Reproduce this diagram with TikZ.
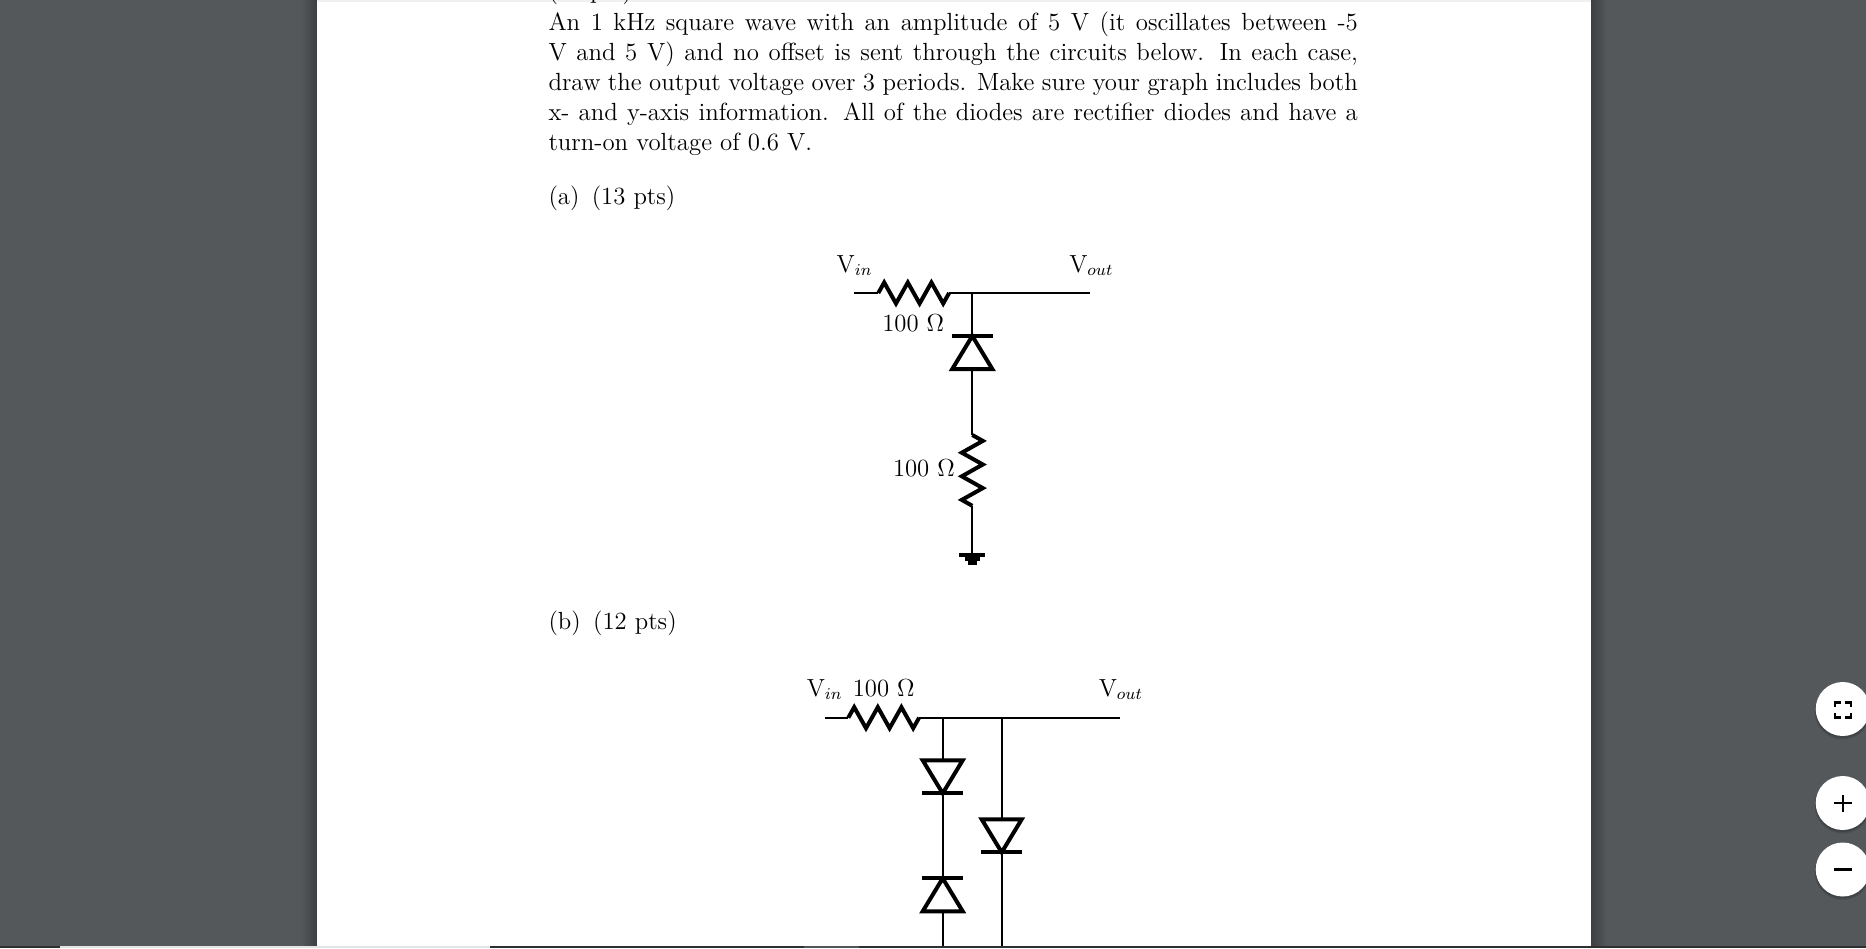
\documentclass[tikz,border=0pt]{standalone}
\definecolor{viewerbg}{HTML}{54585A}
\definecolor{shadowdk}{HTML}{3C3F41}
\definecolor{barbg}{HTML}{2F2F2F}
\definecolor{barlt}{HTML}{E4E4E4}
\definecolor{barmd}{HTML}{555555}
\newcommand{\sub}[1]{\raisebox{-1.3pt}{$\scriptstyle #1$}}
\tikzset{
  x=1pt,y=-1pt,
  wire/.style={line width=2.3pt,black},
  sym/.style={line width=4pt,black,miter limit=10},
  txt/.style={scale=2.06,inner sep=0pt,outer sep=0pt,anchor=base west,font=\fontsize{12}{14.55}\selectfont},
  para/.style={scale=2.07,inner sep=0pt,outer sep=0pt,anchor=north west,text width=391pt,align=justify,font=\fontsize{12}{14.4}\selectfont},
  btn/.style={circle,fill=white,minimum size=54pt,inner sep=0pt},
  btnicon/.style={line width=2.4pt,black},
  pics/reshor/.style={code={\draw[sym] (0,0) -- (5.9,-10.5) -- (17.7,10.5) -- (29.5,-10.5) -- (41.3,10.5) -- (53.1,-10.5) -- (64.9,10.5) -- (70.8,0);}},
  pics/resver/.style={code={\draw[sym] (0,0) -- (10.5,5.9) -- (-10.5,17.7) -- (10.5,29.5) -- (-10.5,41.3) -- (10.5,53.1) -- (-10.5,64.9) -- (0,70.8);}},
  pics/diodeup/.style={code={\draw[sym] (-20.5,0) -- (20.5,0); \draw[sym] (0,0) -- (20,33) -- (-20,33) -- cycle;}},
  pics/diodedown/.style={code={\draw[sym] (-20.5,0) -- (20.5,0); \draw[sym] (0,0) -- (20,-33) -- (-20,-33) -- cycle;}},
  pics/groundsym/.style={code={
    \fill (-13,0) rectangle (13,4);
    \fill (-7.5,4) rectangle (7.5,8);
    \fill (-4.5,8) rectangle (4.5,12);}}
}
\begin{document}
\begin{tikzpicture}
\useasboundingbox (0,0) rectangle (1866,948);
\clip (0,0) rectangle (1866,948);
% viewer
\fill[viewerbg] (0,0) rectangle (1866,948);
\shade[left color=viewerbg,right color=shadowdk] (301,0) rectangle (317,946);
\shade[left color=shadowdk,right color=viewerbg] (1591,0) rectangle (1607,946);
\fill[white] (317,0) rectangle (1591,946);
\fill[black!6] (317,0) rectangle (1591,1.5);
\fill[barbg] (0,946) rectangle (1866,948);
\fill[barlt] (60,946) rectangle (490,948);
\fill[barmd] (804,946) rectangle (859,948);
% text
\node[txt] (t0) at (548.5,-2) {(25 pts)};
\node[para] (t1) at (548.5,12.3) {An 1 kHz square wave with an amplitude of 5 V (it oscillates between -5\linebreak V and 5 V) and no offset is sent through the circuits below. In each case,\linebreak draw the output voltage over 3 periods. Make sure your graph includes both\linebreak x- and y-axis information. All of the diodes are rectifier diodes and have a\linebreak turn-on voltage of 0.6 V.};
\node[txt] (ta) at (548.5,204) {(a)\hspace{0.5em}(13 pts)};
\node[txt] (tb) at (548.5,629.5) {(b)\hspace{0.5em}(12 pts)};
% circuit a
\coordinate (ain) at (854.3,293);
\coordinate (ar1a) at (878.3,293);
\coordinate (ar1b) at (949.1,293);
\coordinate (aj) at (972.3,293);
\coordinate (aout) at (1090,293);
\coordinate (ad) at (972.3,336);
\coordinate (adb) at (972.3,369);
\coordinate (ar2a) at (972.3,435);
\coordinate (ar2b) at (972.3,505.8);
\coordinate (agnd) at (972.3,552.7);
\draw[wire] (ain) -- (ar1a);
\draw[wire] (ar1b) -- (aout);
\draw[wire] (aj) -- (ad);
\draw[wire] (adb) -- (ar2a);
\draw[wire] (ar2b) -- (agnd);
\pic at (ar1a) {reshor};
\pic at (ad) {diodeup};
\pic at (ar2a) {resver};
\pic at (agnd) {groundsym};
\node[txt] (avin) at (836.7,272.7) {V\sub{in}};
\node[txt] (avout) at (1069.3,272.7) {V\sub{out}};
\node[txt] (ar1l) at (882.3,331.7) {100 $\Omega$};
\node[txt] (ar2l) at (893,476) {100 $\Omega$};
% circuit b
\coordinate (bin) at (825,717.7);
\coordinate (br1a) at (848.3,717.7);
\coordinate (br1b) at (919.1,717.7);
\coordinate (bj1) at (942.7,717.7);
\coordinate (bj2) at (1001.7,717.7);
\coordinate (bout) at (1120,717.7);
\coordinate (bd1b) at (942.7,760);
\coordinate (bd1t) at (942.7,793.3);
\coordinate (bd3t) at (942.7,878.3);
\coordinate (bd3b) at (942.7,911.7);
\coordinate (bd2b) at (1001.7,819.3);
\coordinate (bd2t) at (1001.7,852.3);
\coordinate (bend1) at (942.7,946);
\coordinate (bend2) at (1001.7,946);
\draw[wire] (bin) -- (br1a);
\draw[wire] (br1b) -- (bout);
\draw[wire] (bj1) -- (bd1b);
\draw[wire] (bd1t) -- (bd3t);
\draw[wire] (bd3b) -- (bend1);
\draw[wire] (bj2) -- (bd2b);
\draw[wire] (bd2t) -- (bend2);
\pic at (br1a) {reshor};
\pic at (bd1t) {diodedown};
\pic at (bd2t) {diodedown};
\pic at (bd3t) {diodeup};
\node[txt] (bvin) at (806.8,696.7) {V\sub{in}};
\node[txt] (br1l) at (852.8,696.7) {100 $\Omega$};
\node[txt] (bvout) at (1098.8,696.7) {V\sub{out}};
% buttons
\foreach \yy in {709,803,869.5}{
  \fill[black,opacity=.12] (1842.7,\yy+2.5) circle (28);
  \fill[black,opacity=.12] (1842.7,\yy+1.5) circle (27.5);
}
\node[btn] (bfull) at (1842.7,709) {};
\node[btn] (bplus) at (1842.7,803) {};
\node[btn] (bminus) at (1842.7,869.5) {};
\draw[btnicon] (1835,707) -- (1835,702.5) -- (1840.5,702.5);
\draw[btnicon] (1845,702.5) -- (1851,702.5) -- (1851,707);
\draw[btnicon] (1835,712.5) -- (1835,717.5) -- (1840.5,717.5);
\draw[btnicon] (1845,717.5) -- (1851,717.5) -- (1851,712.5);
\draw[btnicon] (1834,803) -- (1851.5,803);
\draw[btnicon] (1842.7,794.5) -- (1842.7,811.5);
\draw[btnicon] (1834,869.5) -- (1851.5,869.5);
\end{tikzpicture}
\end{document}
